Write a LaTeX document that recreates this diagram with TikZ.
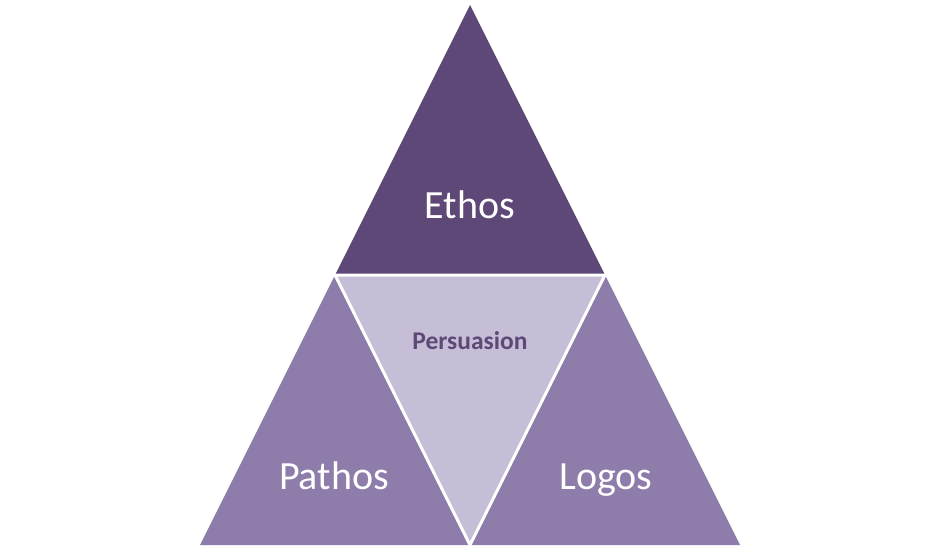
\documentclass[tikz,border=0pt]{standalone}
\usepackage{fontspec}
\setmainfont{Carlito}
\usetikzlibrary{positioning}
\definecolor{ethoscolor}{RGB}{94,72,120}
\definecolor{sidecolor}{RGB}{142,124,170}
\definecolor{centercolor}{RGB}{198,190,214}

\begin{document}
\begin{tikzpicture}[x=1pt, y=-1pt,
    label text/.style={text=white, anchor=base, font=\fontsize{40}{44}\selectfont},
    gap line/.style={draw=white, line width=3pt}]
    \useasboundingbox (0,0) rectangle (939,547);

    % Corner points
    \coordinate (apex) at (470,5);
    \coordinate (leftbase) at (200,545);
    \coordinate (rightbase) at (740,545);
    \coordinate (midbase) at (470,545);
    \coordinate (leftmid) at (335,275);
    \coordinate (rightmid) at (605,275);

    % Triangles
    \fill[ethoscolor] (apex) -- (leftmid) -- (rightmid) -- cycle;
    \fill[sidecolor] (leftmid) -- (leftbase) -- (midbase) -- cycle;
    \fill[sidecolor] (rightmid) -- (midbase) -- (rightbase) -- cycle;
    \fill[centercolor] (leftmid) -- (rightmid) -- (midbase) -- cycle;

    % White gaps
    \draw[gap line] (leftmid) -- (rightmid) -- (midbase) -- cycle;

    % Labels
    \node[label text] (ethos) at (470,218) {Ethos};
    \node[label text] (pathos) at (334,489) {Pathos};
    \node[label text] (logos) at (606,489) {Logos};
    \node[text=ethoscolor, anchor=base, font=\fontsize{25.5}{28}\selectfont\bfseries] (persuasion) at (470,349) {Persuasion};
\end{tikzpicture}
\end{document}
